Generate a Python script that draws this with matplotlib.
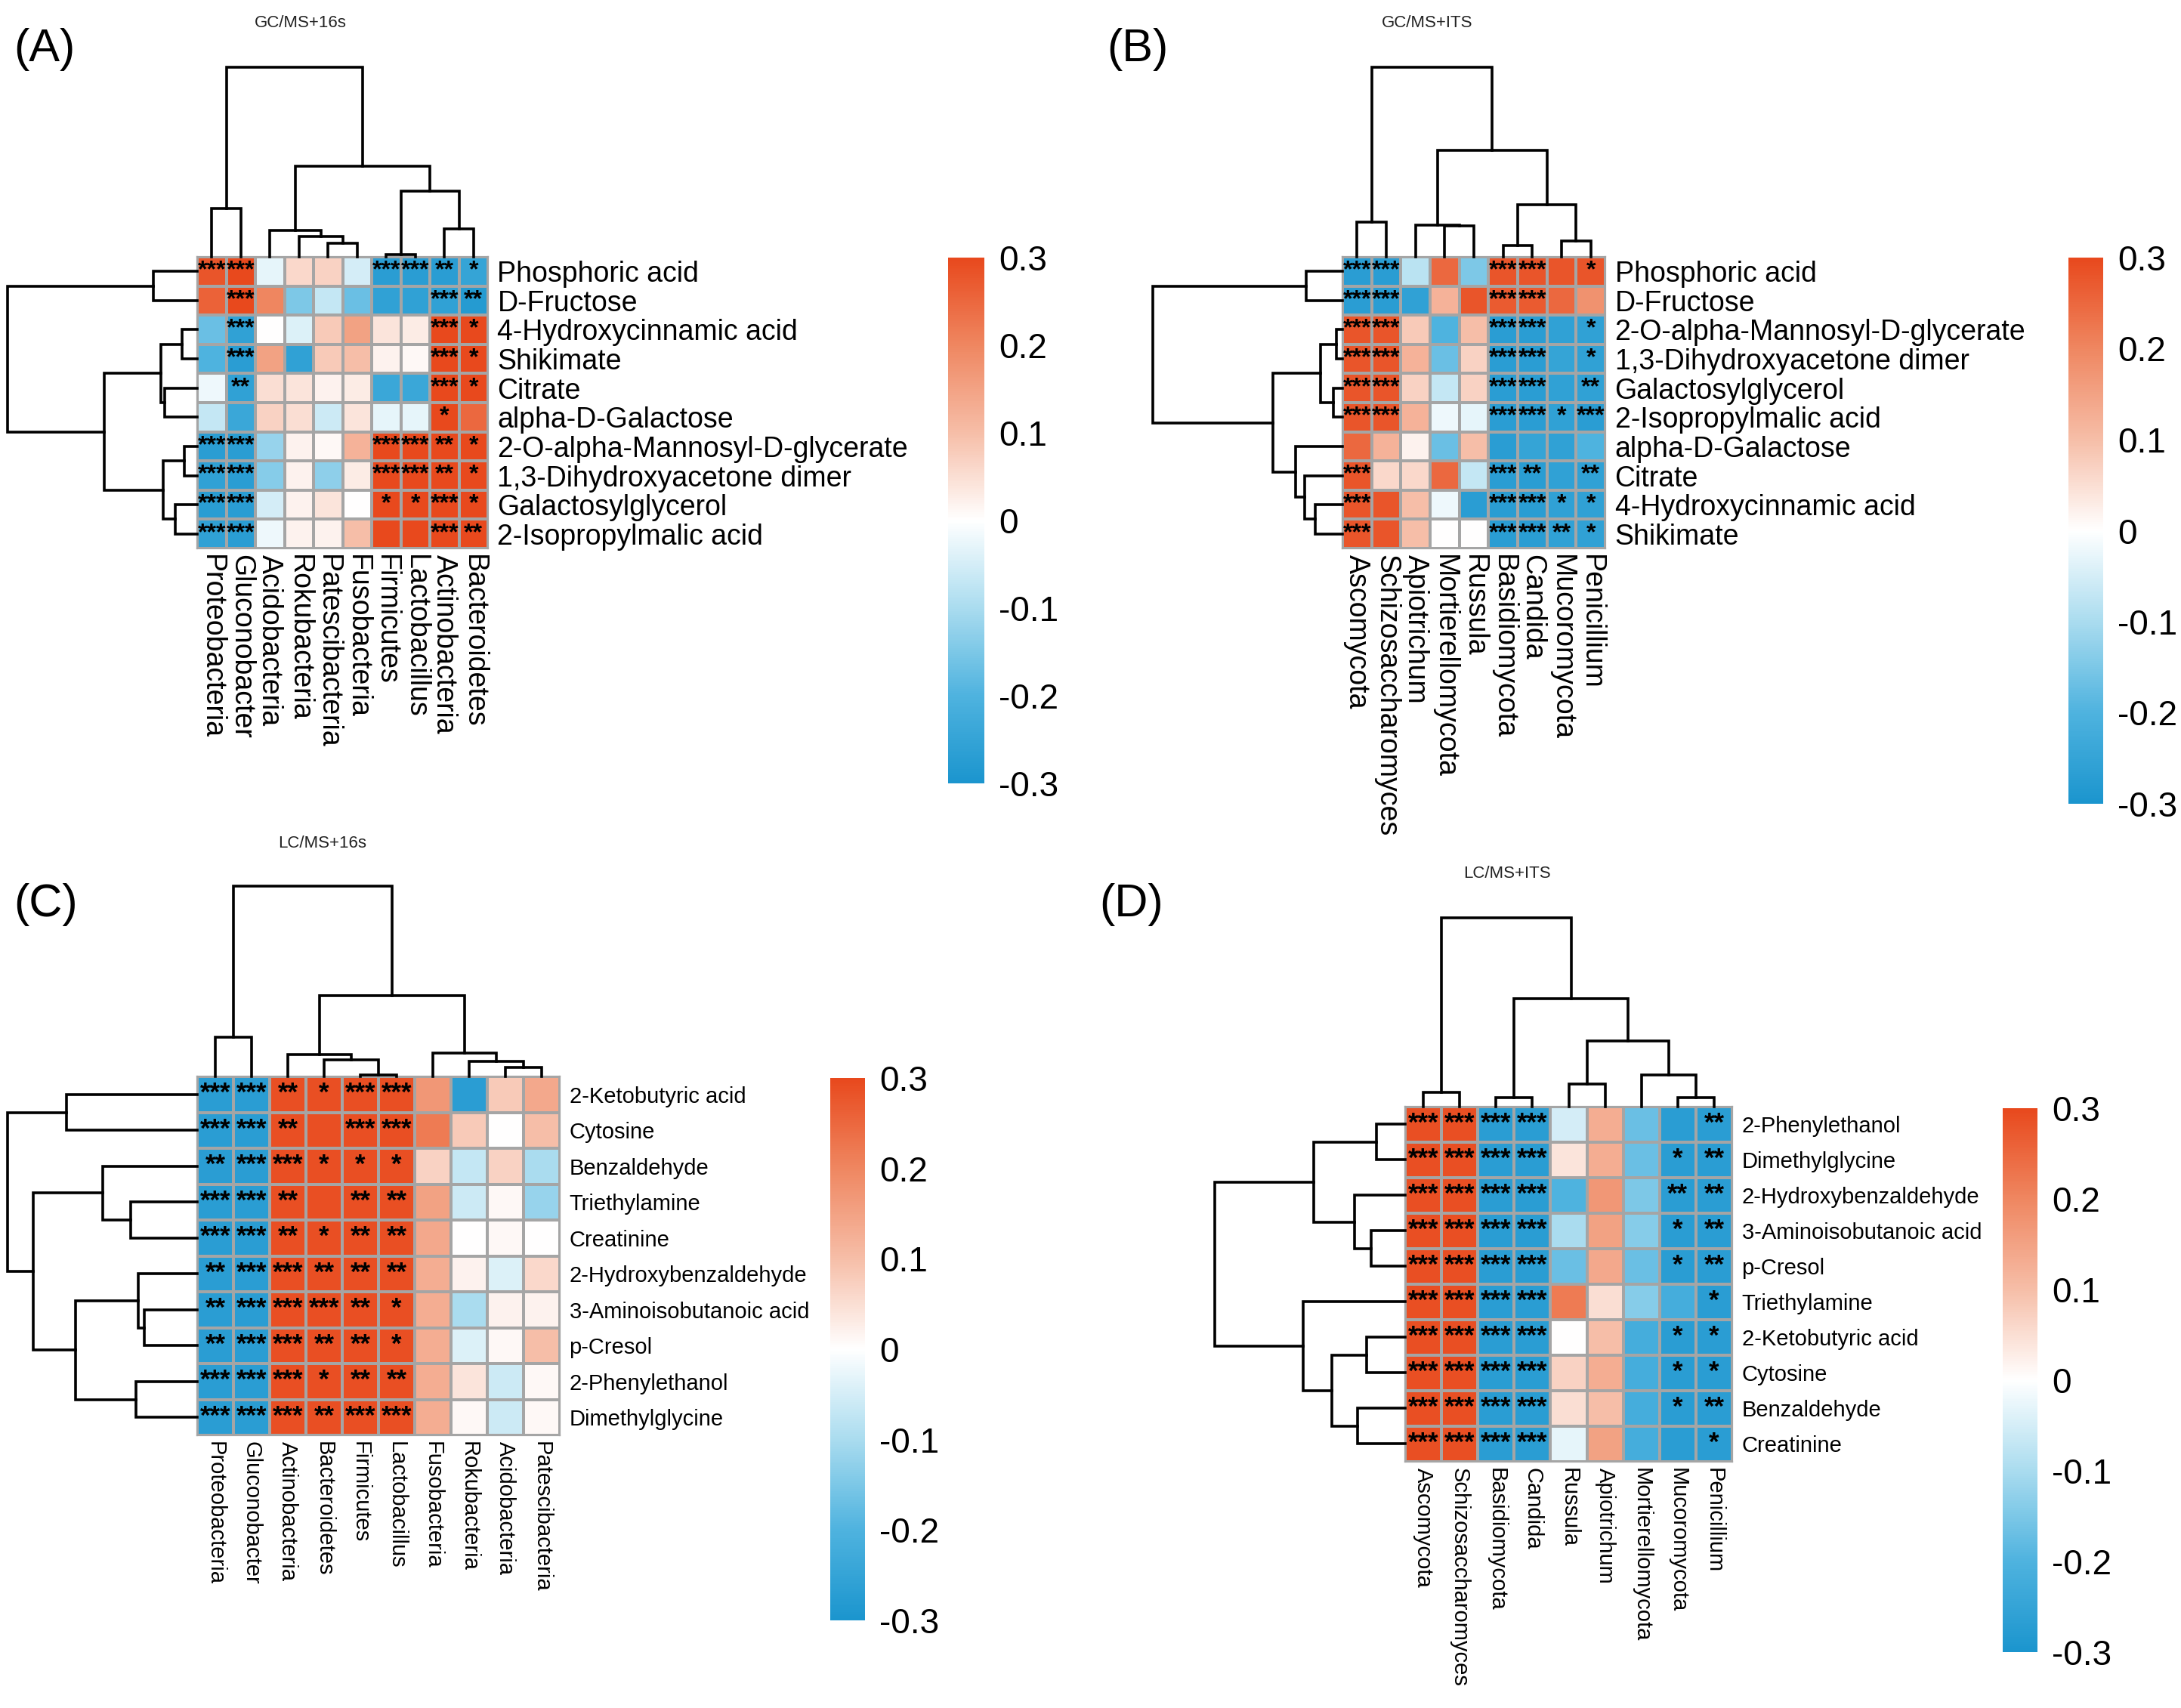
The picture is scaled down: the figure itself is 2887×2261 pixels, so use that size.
import numpy as np
import matplotlib
matplotlib.use('Agg')
import matplotlib.pyplot as plt
from matplotlib.colors import LinearSegmentedColormap, Normalize

plt.rcParams['font.family'] = ['Liberation Sans', 'DejaVu Sans']

W, H = 2887, 2261

# ---------------- data ----------------
a_rows = ['Phosphoric acid', 'D-Fructose', '4-Hydroxycinnamic acid', 'Shikimate', 'Citrate',
          'alpha-D-Galactose', '2-O-alpha-Mannosyl-D-glycerate', '1,3-Dihydroxyacetone dimer',
          'Galactosylglycerol', '2-Isopropylmalic acid']
a_cols = ['Proteobacteria', 'Gluconobacter', 'Acidobacteria', 'Rokubacteria', 'Patescibacteria',
          'Fusobacteria', 'Firmicutes', 'Lactobacillus', 'Actinobacteria', 'Bacteroidetes']
a_vals = [[0.28, 0.30, -0.03, 0.06, 0.07, -0.05, -0.27, -0.27, -0.27, -0.25],
          [0.26, 0.30, 0.20, -0.15, -0.07, -0.17, -0.26, -0.26, -0.26, -0.28],
          [-0.17, -0.26, 0.00, -0.04, 0.08, 0.15, 0.04, 0.03, 0.30, 0.30],
          [-0.20, -0.27, 0.15, -0.26, 0.08, 0.10, 0.02, 0.01, 0.30, 0.30],
          [-0.02, -0.26, 0.05, 0.04, 0.02, 0.03, -0.24, -0.24, 0.30, 0.30],
          [-0.07, -0.24, 0.07, 0.05, -0.06, 0.04, -0.03, -0.03, 0.30, 0.25],
          [-0.27, -0.27, -0.12, 0.02, 0.01, 0.12, 0.30, 0.30, 0.30, 0.30],
          [-0.26, -0.27, -0.14, 0.02, -0.13, 0.03, 0.30, 0.30, 0.30, 0.30],
          [-0.27, -0.27, -0.05, 0.02, 0.04, 0.00, 0.30, 0.30, 0.30, 0.30],
          [-0.26, -0.27, -0.02, 0.02, 0.02, 0.10, 0.30, 0.30, 0.30, 0.30]]
a_stars = [[3, 3, 0, 0, 0, 0, 3, 3, 2, 1],
           [0, 3, 0, 0, 0, 0, 0, 0, 3, 2],
           [0, 3, 0, 0, 0, 0, 0, 0, 3, 1],
           [0, 3, 0, 0, 0, 0, 0, 0, 3, 1],
           [0, 2, 0, 0, 0, 0, 0, 0, 3, 1],
           [0, 0, 0, 0, 0, 0, 0, 0, 1, 0],
           [3, 3, 0, 0, 0, 0, 3, 3, 2, 1],
           [3, 3, 0, 0, 0, 0, 3, 3, 2, 1],
           [3, 3, 0, 0, 0, 0, 1, 1, 3, 1],
           [3, 3, 0, 0, 0, 0, 0, 0, 3, 2]]
# merges: (child_a, child_b, height); leaves are 0..n-1, new clusters numbered from n
a_col_tree = [(0, 1, 0.255), (4, 5, 0.073), (3, 11, 0.106), (2, 12, 0.14), (6, 7, 0.012),
              (8, 9, 0.146), (14, 15, 0.346), (13, 16, 0.479), (10, 17, 1.0)]
a_row_tree = [(0, 1, 0.23), (2, 3, 0.08), (4, 5, 0.17), (11, 12, 0.19), (6, 7, 0.066),
              (8, 9, 0.115), (14, 15, 0.18), (13, 16, 0.49), (10, 17, 1.0)]

b_rows = ['Phosphoric acid', 'D-Fructose', '2-O-alpha-Mannosyl-D-glycerate', '1,3-Dihydroxyacetone dimer',
          'Galactosylglycerol', '2-Isopropylmalic acid', 'alpha-D-Galactose', 'Citrate',
          '4-Hydroxycinnamic acid', 'Shikimate']
b_cols = ['Ascomycota', 'Schizosaccharomyces', 'Apiotrichum', 'Mortierellomycota', 'Russula',
          'Basidiomycota', 'Candida', 'Mucoromycota', 'Penicillium']
b_vals = [[-0.27, -0.27, -0.08, 0.25, -0.15, 0.28, 0.28, 0.28, 0.28],
          [-0.27, -0.27, -0.26, 0.12, 0.28, 0.27, 0.27, 0.25, 0.18],
          [0.28, 0.28, 0.08, -0.20, 0.10, -0.27, -0.27, -0.26, -0.26],
          [0.28, 0.28, 0.12, -0.17, 0.07, -0.27, -0.27, -0.25, -0.26],
          [0.28, 0.28, 0.07, -0.07, 0.07, -0.27, -0.27, -0.26, -0.26],
          [0.28, 0.28, 0.12, -0.02, -0.03, -0.27, -0.27, -0.26, -0.27],
          [0.25, 0.12, 0.02, -0.17, 0.10, -0.27, -0.25, -0.26, -0.20],
          [0.28, 0.06, 0.06, 0.25, -0.07, -0.27, -0.27, -0.26, -0.26],
          [0.28, 0.28, 0.10, -0.02, -0.27, -0.27, -0.27, -0.26, -0.26],
          [0.28, 0.28, 0.10, 0.00, 0.00, -0.27, -0.27, -0.26, -0.26]]
b_stars = [[3, 3, 0, 0, 0, 3, 3, 0, 1],
           [3, 3, 0, 0, 0, 3, 3, 0, 0],
           [3, 3, 0, 0, 0, 3, 3, 0, 1],
           [3, 3, 0, 0, 0, 3, 3, 0, 1],
           [3, 3, 0, 0, 0, 3, 3, 0, 2],
           [3, 3, 0, 0, 0, 3, 3, 1, 3],
           [0, 0, 0, 0, 0, 0, 0, 0, 0],
           [3, 0, 0, 0, 0, 3, 2, 0, 2],
           [3, 0, 0, 0, 0, 3, 3, 1, 1],
           [3, 0, 0, 0, 0, 3, 3, 2, 1]]
b_col_tree = [(0, 1, 0.184), (3, 4, 0.164), (2, 10, 0.166), (5, 6, 0.06), (7, 8, 0.082),
              (12, 13, 0.273), (11, 14, 0.561), (9, 15, 1.0)]
b_row_tree = [(0, 1, 0.19), (2, 3, 0.032), (4, 5, 0.048), (11, 12, 0.114), (8, 9, 0.143),
              (7, 14, 0.2), (6, 15, 0.248), (13, 16, 0.366), (10, 17, 1.0)]

c_rows = ['2-Ketobutyric acid', 'Cytosine', 'Benzaldehyde', 'Triethylamine', 'Creatinine',
          '2-Hydroxybenzaldehyde', '3-Aminoisobutanoic acid', 'p-Cresol', '2-Phenylethanol',
          'Dimethylglycine']
c_cols = ['Proteobacteria', 'Gluconobacter', 'Actinobacteria', 'Bacteroidetes', 'Firmicutes',
          'Lactobacillus', 'Fusobacteria', 'Rokubacteria', 'Acidobacteria', 'Patescibacteria']
c_vals = [[-0.27, -0.27, 0.29, 0.29, 0.29, 0.29, 0.17, -0.27, 0.08, 0.14],
          [-0.27, -0.27, 0.29, 0.29, 0.29, 0.29, 0.22, 0.08, 0.00, 0.10],
          [-0.27, -0.27, 0.29, 0.29, 0.29, 0.29, 0.07, -0.07, 0.07, -0.10],
          [-0.27, -0.27, 0.29, 0.29, 0.29, 0.29, 0.15, -0.06, 0.01, -0.12],
          [-0.27, -0.27, 0.29, 0.29, 0.29, 0.29, 0.14, 0.00, 0.01, 0.00],
          [-0.27, -0.27, 0.29, 0.29, 0.29, 0.29, 0.13, 0.02, -0.04, 0.06],
          [-0.27, -0.27, 0.29, 0.29, 0.29, 0.29, 0.13, -0.10, 0.02, 0.02],
          [-0.27, -0.27, 0.29, 0.29, 0.29, 0.29, 0.13, -0.04, 0.01, 0.10],
          [-0.27, -0.27, 0.29, 0.29, 0.29, 0.29, 0.13, 0.04, -0.06, 0.01],
          [-0.27, -0.27, 0.29, 0.29, 0.29, 0.29, 0.13, 0.01, -0.06, 0.01]]
c_stars = [[3, 3, 2, 1, 3, 3, 0, 0, 0, 0],
           [3, 3, 2, 0, 3, 3, 0, 0, 0, 0],
           [2, 3, 3, 1, 1, 1, 0, 0, 0, 0],
           [3, 3, 2, 0, 2, 2, 0, 0, 0, 0],
           [3, 3, 2, 1, 2, 2, 0, 0, 0, 0],
           [2, 3, 3, 2, 2, 2, 0, 0, 0, 0],
           [2, 3, 3, 3, 2, 1, 0, 0, 0, 0],
           [2, 3, 3, 2, 2, 1, 0, 0, 0, 0],
           [3, 3, 3, 1, 2, 2, 0, 0, 0, 0],
           [3, 3, 3, 2, 3, 3, 0, 0, 0, 0]]
c_col_tree = [(0, 1, 0.206), (4, 5, 0.008), (3, 11, 0.086), (2, 12, 0.117), (8, 9, 0.047),
              (7, 14, 0.08), (6, 15, 0.122), (13, 16, 0.426), (10, 17, 1.0)]
c_row_tree = [(0, 1, 0.69), (3, 4, 0.35), (2, 11, 0.5), (6, 7, 0.28), (5, 13, 0.31),
              (8, 9, 0.324), (14, 15, 0.64), (12, 16, 0.866), (10, 17, 1.0)]

d_rows = ['2-Phenylethanol', 'Dimethylglycine', '2-Hydroxybenzaldehyde', '3-Aminoisobutanoic acid',
          'p-Cresol', 'Triethylamine', '2-Ketobutyric acid', 'Cytosine', 'Benzaldehyde', 'Creatinine']
d_cols = ['Ascomycota', 'Schizosaccharomyces', 'Basidiomycota', 'Candida', 'Russula',
          'Apiotrichum', 'Mortierellomycota', 'Mucoromycota', 'Penicillium']
d_vals = [[0.29, 0.29, -0.27, -0.27, -0.05, 0.13, -0.17, -0.27, -0.27],
          [0.29, 0.29, -0.27, -0.27, 0.04, 0.13, -0.17, -0.27, -0.27],
          [0.29, 0.29, -0.27, -0.27, -0.20, 0.17, -0.15, -0.27, -0.27],
          [0.29, 0.29, -0.27, -0.27, -0.10, 0.15, -0.14, -0.27, -0.27],
          [0.29, 0.29, -0.27, -0.27, -0.17, 0.14, -0.17, -0.27, -0.27],
          [0.29, 0.29, -0.27, -0.27, 0.22, 0.05, -0.14, -0.22, -0.27],
          [0.29, 0.29, -0.27, -0.27, 0.00, 0.10, -0.22, -0.27, -0.27],
          [0.29, 0.29, -0.27, -0.27, 0.07, 0.13, -0.22, -0.27, -0.27],
          [0.29, 0.29, -0.27, -0.27, 0.05, 0.10, -0.22, -0.27, -0.27],
          [0.29, 0.29, -0.27, -0.27, -0.03, 0.15, -0.22, -0.27, -0.27]]
d_stars = [[3, 3, 3, 3, 0, 0, 0, 0, 2],
           [3, 3, 3, 3, 0, 0, 0, 1, 2],
           [3, 3, 3, 3, 0, 0, 0, 2, 2],
           [3, 3, 3, 3, 0, 0, 0, 1, 2],
           [3, 3, 3, 3, 0, 0, 0, 1, 2],
           [3, 3, 3, 3, 0, 0, 0, 0, 1],
           [3, 3, 3, 3, 0, 0, 0, 1, 1],
           [3, 3, 3, 3, 0, 0, 0, 1, 1],
           [3, 3, 3, 3, 0, 0, 0, 1, 2],
           [3, 3, 3, 3, 0, 0, 0, 0, 1]]
d_col_tree = [(0, 1, 0.076), (2, 3, 0.049), (4, 5, 0.12), (7, 8, 0.049), (6, 12, 0.167),
              (11, 13, 0.347), (10, 14, 0.573), (9, 15, 1.0)]
d_row_tree = [(0, 1, 0.15), (3, 4, 0.177), (2, 11, 0.266), (10, 12, 0.48), (6, 7, 0.204),
              (8, 9, 0.25), (14, 15, 0.386), (5, 16, 0.535), (13, 17, 1.0)]

cbar_ticks = [-0.3, -0.2, -0.1, 0.0, 0.1, 0.2, 0.3]
cbar_labels = ['-0.3', '-0.2', '-0.1', '0', '0.1', '0.2', '0.3']

cmap = LinearSegmentedColormap.from_list(
    'bwr_custom', ['#1B95CE', '#4FB3DF', '#AADCEF', '#FFFFFF', '#F6BEA8', '#EF8761', '#E8491D'])
norm = Normalize(-0.3, 0.3)


def px_axes(fig, l, t, r, b):
    # osa zadana v pixelech obrazku (vlevo, nahore, vpravo, dole)
    return fig.add_axes([l / W, 1 - b / H, (r - l) / W, (b - t) / H])


def draw_tree(ax, tree, n, side):
    pos = list(range(n))
    hts = [0.0] * n
    for a, b, h in tree:
        pos.append((pos[a] + pos[b]) / 2)
        hts.append(h)
    for a, b, h in tree:
        p = [pos[a], pos[a], pos[b], pos[b]]
        q = [hts[a], h, h, hts[b]]
        if side == 'top':
            ax.plot(p, q, color='black', lw=2.6, clip_on=False, solid_joinstyle='miter')
        else:
            ax.plot(q, p, color='black', lw=2.6, clip_on=False, solid_joinstyle='miter')
    if side == 'top':
        ax.set_xlim(-0.5, n - 0.5)
        ax.set_ylim(0, 1)
    else:
        ax.set_ylim(n - 0.5, -0.5)
        ax.set_xlim(1, 0)
    ax.axis('off')


def panel(fig, rows, cols, vals, stars, col_tree, row_tree, title, letter, lay):
    nr, nc = len(rows), len(cols)
    l, t, r, b = lay['heat']
    ax = px_axes(fig, l, t, r, b)
    ax.pcolormesh(np.arange(nc + 1) - 0.5, np.arange(nr + 1) - 0.5, np.array(vals),
                  cmap=cmap, norm=norm, edgecolors='#a5a5a5', linewidth=1.6)
    ax.set_xlim(-0.5, nc - 0.5)
    ax.set_ylim(nr - 0.5, -0.5)
    ax.set_xticks(range(nc))
    ax.set_xticklabels(cols, rotation=270, fontsize=lay['fs_col'])
    ax.set_yticks(range(nr))
    ax.set_yticklabels(rows, fontsize=lay['fs_row'])
    ax.yaxis.tick_right()
    ax.tick_params(axis='x', length=0, pad=6)
    ax.tick_params(axis='y', length=0, pad=9)
    for s in ax.spines.values():
        s.set_color('#a5a5a5')
        s.set_linewidth(1.6)
    for i in range(nr):
        for j in range(nc):
            if stars[i][j]:
                ax.text(j, i - 0.02, '*' * stars[i][j], ha='center', va='center',
                        fontsize=lay['fs_star'], fontweight='bold', color='black')

    dax = px_axes(fig, l, lay['col_top'], r, t)
    draw_tree(dax, col_tree, nc, 'top')
    rax = px_axes(fig, lay['row_left'], t, l, b)
    draw_tree(rax, row_tree, nr, 'left')

    cax = px_axes(fig, *lay['cbar'])
    sm = plt.cm.ScalarMappable(norm=norm, cmap=cmap)
    cb = fig.colorbar(sm, cax=cax, ticks=cbar_ticks)
    cb.ax.set_yticklabels(cbar_labels, fontsize=33)
    cb.outline.set_visible(False)
    cb.ax.tick_params(length=0, pad=14)

    fig.text(lay['title'][0] / W, 1 - lay['title'][1] / H, title, ha='center', va='center',
             fontsize=16, color='#222222')
    fig.text(lay['letter'][0] / W, 1 - lay['letter'][1] / H, letter, ha='left', va='center',
             fontsize=44)


fig = plt.figure(figsize=(W / 100, H / 100), dpi=100)

panel(fig, a_rows, a_cols, a_vals, a_stars, a_col_tree, a_row_tree, 'GC/MS+16s', '(A)',
      dict(heat=(261, 340, 646, 726), row_left=10, col_top=89, cbar=(1255, 341, 1303, 1037),
           title=(398, 30), letter=(18, 66), fs_row=27, fs_col=27, fs_star=23))
panel(fig, b_rows, b_cols, b_vals, b_stars, b_col_tree, b_row_tree, 'GC/MS+ITS', '(B)',
      dict(heat=(1777, 340, 2125, 726), row_left=1526, col_top=89, cbar=(2738, 341, 2784, 1064),
           title=(1889, 30), letter=(1465, 66), fs_row=27, fs_col=27, fs_star=23))
panel(fig, c_rows, c_cols, c_vals, c_stars, c_col_tree, c_row_tree, 'LC/MS+16s', '(C)',
      dict(heat=(261, 1425, 741, 1900), row_left=10, col_top=1173, cbar=(1099, 1427, 1145, 2145),
           title=(427, 1117), letter=(18, 1198), fs_row=21, fs_col=21, fs_star=25))
panel(fig, d_rows, d_cols, d_vals, d_stars, d_col_tree, d_row_tree, 'LC/MS+ITS', '(D)',
      dict(heat=(1860, 1465, 2293, 1935), row_left=1608, col_top=1215, cbar=(2651, 1467, 2697, 2187),
           title=(1995, 1157), letter=(1455, 1198), fs_row=21, fs_col=21, fs_star=25))

fig.savefig('out.png', dpi=100)
